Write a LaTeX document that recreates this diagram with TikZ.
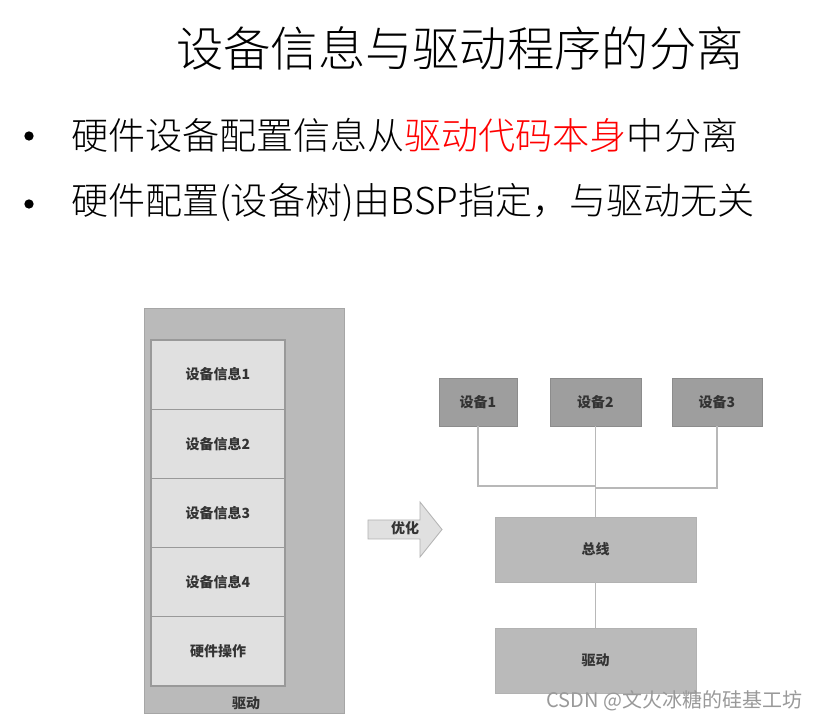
\documentclass[tikz,border=0pt]{standalone}
\usepackage{fontspec}
\setmainfont{Noto Sans CJK SC}
\newfontfamily\cjk{Noto Sans CJK SC}
\newfontfamily\cjklight{Noto Sans CJK SC Light}
\begin{document}
\begin{tikzpicture}[x=0.75pt,y=-0.75pt,
  every node/.style={inner sep=0pt, outer sep=0pt},
  lbl/.style={font=\cjk\bfseries\fontsize{10.5}{12}\selectfont, text=black!80},
  infobox/.style={draw=black!40, line width=0.8pt, fill=black!12, minimum width=100.5pt, minimum height=51.9pt, lbl},
  devbox/.style={draw=black!45, line width=0.6pt, fill=black!38, minimum height=36pt, lbl},
  bigbox/.style={draw=black!30, line width=0.6pt, fill=black!27, minimum width=150.75pt, minimum height=48.75pt, lbl},
  wire/.style={draw=black!28, line width=0.9pt},
  bulletdot/.style={circle, fill=black, minimum size=7pt}
]
\useasboundingbox (0,0) rectangle (819,720);
\fill[white] (0,0) rectangle (819,720);

% title and bullets
\node (title) at (460,48) {\cjklight\fontsize{35.5}{40}\selectfont 设备信息与驱动程序的分离};
\node[bulletdot] (b1) at (29,136) {};
\node[anchor=west] (t1) at (71,135) {\cjklight\fontsize{27.8}{32}\selectfont 硬件设备配置信息从\textcolor{red}{驱动代码本身}中分离};
\node[bulletdot] (b2) at (29,204) {};
\node[anchor=west] (t2) at (71,203) {\cjklight\fontsize{27.8}{32}\selectfont 硬件配置(设备树)由BSP指定，与驱动无关};

% left: driver containing device info
\node[draw=black!35, line width=0.6pt, fill=black!27, minimum width=150pt, minimum height=303.75pt] (drvL) at (244,510.5) {};
\node[infobox] (i1) at (218,374.6) {设备信息1};
\node[infobox] (i2) at (218,443.8) {设备信息2};
\node[infobox] (i3) at (218,513.0) {设备信息3};
\node[infobox] (i4) at (218,582.2) {设备信息4};
\node[infobox] (i5) at (218,651.4) {硬件操作};
\node[lbl] (drvLt) at (246,703) {驱动};

% optimisation arrow
\filldraw[fill=black!12, draw=black!30, line width=0.6pt]
  (368,520) -- (420,520) -- (420,502) -- (442,529.5) -- (420,557) -- (420,539) -- (368,539) -- cycle;
\node[lbl] (opt) at (405,528) {优化};

% right: devices, bus, driver
\node[devbox, minimum width=58.5pt] (d1) at (478,402) {设备1};
\node[devbox, minimum width=68.25pt] (d2) at (595.5,402) {设备2};
\node[devbox, minimum width=67.5pt] (d3) at (717,402) {设备3};
\node[bigbox] (bus) at (595.5,549.5) {总线};
\node[bigbox] (drv) at (595.5,660.5) {驱动};

\coordinate (j1) at (595.5,486);
\coordinate (j3) at (595.5,488);
\draw[wire] (d1.south) |- (j1);
\draw[wire] (d3.south) |- (j3);
\draw[wire] (d2.south) -- (bus.north);
\draw[wire] (bus.south) -- (drv.north);

% watermark
\node[anchor=east, text=black!40] (wm) at (802,701) {\cjk\fontsize{15}{18}\selectfont CSDN @文火冰糖的硅基工坊};
\end{tikzpicture}
\end{document}
